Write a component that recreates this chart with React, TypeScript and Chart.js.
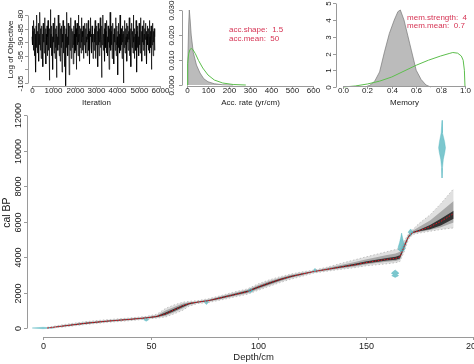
import React, { useEffect, useRef } from "react";
import { Chart, registerables } from "chart.js";
Chart.register(...registerables);

const W = 474;
const H = 364;
const FONT = '"Liberation Sans", Arial, Helvetica, sans-serif';
const TEXT = "#1a1a1a";
const NOTE = "rgb(214,52,84)";
const GREEN = "rgb(92,190,76)";
const CYAN = "rgba(80,180,190,0.75)";

// ---------- MCMC trace ----------
const traceStep = 16;
const traceLogObjective = [
  -88, -84, -91, -86, -93, -82, -89, -95, -85, -90, -87, -101, -84, -92, -80, -88, -94, -86, -90, -83,
  -97, -87, -91, -79, -89, -93, -85, -96, -88, -84, -92, -87, -99, -83, -90, -86, -94, -81, -89, -92,
  -85, -98, -87, -91, -84, -95, -88, -82, -93, -86, -90, -104, -85, -89, -78, -92, -87, -95, -84, -91,
  -88, -100, -83, -90, -86, -94, -81, -89, -96, -85, -92, -87, -103, -84, -90, -88, -93, -80, -91, -86,
  -95, -83, -89, -97, -85, -92, -88, -84, -101, -87, -90, -82, -94, -86, -91, -99, -84, -89, -87, -106,
  -85, -92, -79, -90, -88, -95, -83, -91, -86, -102, -87, -84, -93, -89, -81, -96, -88, -85, -92, -90,
  -86, -98, -84, -91, -87, -94, -82, -89, -93, -85, -100, -88, -83, -91, -86, -95, -80, -90, -87, -97,
  -84, -92, -88, -85, -94, -81, -90, -86, -93, -88, -84, -96, -87, -91, -83, -89, -92, -85, -94, -88,
  -90, -83, -95, -87, -89, -82, -93, -86, -91, -98, -85, -88, -81, -92, -87, -94, -84, -90, -86, -96,
  -89,
  -87, -93, -85, -90, -82, -96, -88, -91, -84, -89, -94, -86, -99, -83, -91, -87, -95, -85, -90, -81,
  -92, -86, -89, -103, -84, -91, -88, -80, -93, -87, -90, -85, -97, -83, -89, -92, -86, -94, -82, -91,
  -88, -95, -84, -90, -87, -100, -85, -92, -79, -89, -93, -86, -91, -84, -96, -88, -83, -92, -87, -98,
  -85, -90, -86, -93, -81, -89, -95, -84, -91, -88, -102, -86, -92, -83, -90, -87, -94, -80, -89, -93,
  -85, -91, -88, -96, -84, -90, -87, -105, -86, -92, -82, -89, -94, -85, -91, -88, -83, -97, -87, -90,
  -84, -93, -86, -89, -81, -95, -88, -91, -85, -99, -87, -83, -92, -89, -86, -94, -80, -90, -88, -96,
  -85, -91, -87, -93, -82, -89, -101, -86, -92, -84, -90, -88, -95, -83, -91, -87, -94, -81, -89, -92,
  -86, -97, -84, -90, -88, -93, -82, -91, -87, -95, -85, -89, -83, -92, -86, -98, -88, -84, -91, -87,
  -93, -85, -90, -82, -94, -88, -86, -92, -84, -100, -87, -91, -83, -89, -95, -86, -90, -85, -93, -88,
];
const iterTicks = [0, 1000, 2000, 3000, 4000, 5000, 6000];
const objTicks = [-105, -100, -95, -90, -85, -80];
const objLabels = ["-105", "", "-95", "-90", "-85", "-80"];

// ---------- accumulation rate ----------
const accRateX = [0, 4, 8, 11, 15, 20, 30, 45, 62, 80, 100, 130, 170, 220];
const accPosterior = [0, 0.01, 0.024, 0.03, 0.026, 0.02, 0.013, 0.008, 0.0048, 0.0025, 0.0013, 0.0005, 0.0001, 0];
const accPriorX = [0, 3, 8, 14, 20, 28, 40, 55, 75, 100, 130, 170, 220, 280];
const accPrior = [0, 0.0085, 0.0125, 0.0142, 0.0146, 0.0142, 0.0125, 0.0098, 0.0068, 0.004, 0.002, 0.0008, 0.0002, 0];
const accShape = 1.5;
const accMean = 50;
const accTicks = [0, 100, 200, 300, 400, 500, 600];
const accDensTicks = [0, 0.01, 0.02, 0.03];

// ---------- memory ----------
const memX = [0.18, 0.22, 0.26, 0.3, 0.34, 0.38, 0.42, 0.45, 0.47, 0.5, 0.53, 0.56, 0.6, 0.64, 0.68, 0.72];
const memPosterior = [0, 0.1, 0.35, 0.9, 2.1, 3.2, 4.0, 4.5, 4.6, 4.0, 3.1, 2.2, 1.0, 0.45, 0.12, 0];
const memPriorX = [0, 0.1, 0.2, 0.3, 0.4, 0.5, 0.6, 0.7, 0.8, 0.87, 0.9, 0.94, 0.97, 0.985, 0.995, 1.0];
const memPrior = [0, 0.06, 0.18, 0.35, 0.6, 0.95, 1.3, 1.6, 1.85, 2.0, 2.06, 2.02, 1.85, 1.6, 1.0, 0];
const memStrength = 4;
const memMean = 0.7;
const memTicks = [0, 0.2, 0.4, 0.6, 0.8, 1.0];
const memDensTicks = [0, 1, 2, 3, 4, 5];

// ---------- age-depth model ----------
const modelDepths = [2, 10, 20, 30, 40, 48, 53, 57, 61, 65, 68, 72, 77, 82, 88, 95, 100, 105, 110, 115, 120, 126, 132, 138, 145, 150, 155, 160, 164, 166, 168, 170, 172, 175, 180, 185, 191];
const ageMean = [0, 120, 270, 390, 480, 570, 650, 800, 1020, 1250, 1380, 1460, 1540, 1680, 1850, 2050, 2300, 2520, 2720, 2890, 3030, 3180, 3300, 3420, 3560, 3680, 3780, 3870, 3920, 4000, 4600, 5150, 5380, 5480, 5710, 6000, 6450];
const ageLo95 = [-30, 60, 200, 320, 410, 500, 560, 620, 800, 1000, 1230, 1380, 1440, 1560, 1720, 1900, 2120, 2340, 2550, 2740, 2900, 3100, 3200, 3300, 3400, 3500, 3560, 3620, 3680, 3750, 4300, 5000, 5270, 5350, 5450, 5550, 5640];
const ageHi95 = [40, 200, 360, 470, 560, 650, 780, 1100, 1300, 1450, 1500, 1540, 1650, 1800, 2000, 2200, 2480, 2700, 2880, 3030, 3150, 3260, 3420, 3620, 3840, 4000, 4150, 4300, 4420, 4500, 4900, 5300, 5550, 5900, 6370, 7000, 7850];
const ageLo68 = [-20, 80, 225, 345, 435, 525, 595, 690, 890, 1110, 1300, 1420, 1490, 1610, 1770, 1960, 2190, 2410, 2620, 2810, 2960, 3140, 3240, 3350, 3470, 3580, 3660, 3730, 3780, 3850, 4430, 5060, 5320, 5410, 5520, 5680, 5950];
const ageHi68 = [25, 170, 325, 440, 530, 620, 720, 980, 1190, 1380, 1450, 1510, 1610, 1760, 1940, 2150, 2410, 2630, 2820, 2980, 3100, 3230, 3380, 3540, 3720, 3860, 3990, 4110, 4200, 4300, 4780, 5250, 5480, 5700, 6050, 6550, 7150];
const ageLo50 = [-8, 100, 245, 368, 458, 548, 622, 740, 960, 1190, 1345, 1442, 1515, 1648, 1810, 2010, 2250, 2470, 2680, 2855, 3005, 3163, 3275, 3390, 3520, 3630, 3720, 3800, 3850, 3920, 4520, 5110, 5355, 5445, 5570, 5780, 6150];
const ageHi50 = [12, 145, 295, 415, 505, 595, 680, 880, 1090, 1300, 1410, 1482, 1570, 1715, 1885, 2095, 2345, 2565, 2765, 2930, 3060, 3200, 3330, 3465, 3620, 3740, 3850, 3950, 4010, 4100, 4680, 5190, 5410, 5540, 5800, 6150, 6600];
const depthTicks = [0, 50, 100, 150, 200];
const ageTicks = [0, 2000, 4000, 6000, 8000, 10000, 12000];

// ---------- calibrated dates ----------
const dateDepths = [0, 48, 76, 96.5, 126.5, 163.8, 166.8, 171, 185.6];
const dateAges = [
  [-40, 0, 40],
  [380, 470, 560],
  [1320, 1450, 1580],
  [1980, 2100, 2230],
  [3120, 3240, 3360],
  [2850, 2950, 3020, 3080, 3150, 3270],
  [4250, 4400, 4560, 4800, 5050, 5350],
  [5240, 5400, 5580],
  [8450, 9000, 9500, 9900, 10150, 10500, 11000, 11700],
];
const dateWidths = [
  [0, 5, 0],
  [0, 1.2, 0],
  [0, 1.0, 0],
  [0, 1.2, 0],
  [0, 0.8, 0],
  [0, 1.6, 0.8, 1.8, 1.2, 0],
  [0, 1.3, 1.6, 1.0, 0.5, 0],
  [0, 1.2, 0],
  [0, 0.2, 0.6, 1.3, 1.6, 1.2, 0.4, 0],
];

// ---------- helpers ----------
type AxisSpec = {
  ticks: number[];
  labels: string[];
  at: number;
  labelGap: number;
  title?: string;
  titleGap?: number;
  titleAt?: number;
  font: number;
  titleFont?: number;
  color?: string;
};
type Note = { x: number; y: number; text: string; color: string; font: number };

function span(v1: number, p1: number, v2: number, p2: number, lo: number, hi: number) {
  const k = (p2 - p1) / (v2 - v1);
  const a = v1 + (lo - p1) / k;
  const b = v1 + (hi - p1) / k;
  return { min: Math.min(a, b), max: Math.max(a, b) };
}

function rAxes(id: string, xa: AxisSpec, ya: AxisSpec, notes: Note[] = []) {
  return {
    id,
    afterDraw(chart: any) {
      const ctx = chart.ctx as CanvasRenderingContext2D;
      const xs = chart.scales.x;
      const ys = chart.scales.y;
      ctx.save();
      ctx.lineWidth = 1;
      const xp = xa.ticks.map((v) => Math.round(xs.getPixelForValue(v)) + 0.5);
      ctx.strokeStyle = xa.color || "#9a9a9a";
      ctx.beginPath();
      ctx.moveTo(xp[0], xa.at + 0.5);
      ctx.lineTo(xp[xp.length - 1], xa.at + 0.5);
      xp.forEach((p) => {
        ctx.moveTo(p, xa.at);
        ctx.lineTo(p, xa.at + 3);
      });
      ctx.stroke();
      ctx.fillStyle = TEXT;
      ctx.textAlign = "center";
      ctx.textBaseline = "middle";
      ctx.font = `${xa.font}px ${FONT}`;
      xp.forEach((p, i) => ctx.fillText(xa.labels[i], p, xa.at + xa.labelGap));
      if (xa.title) {
        ctx.font = `${xa.titleFont || xa.font}px ${FONT}`;
        const c = xa.titleAt !== undefined ? xs.getPixelForValue(xa.titleAt) : (xp[0] + xp[xp.length - 1]) / 2;
        ctx.fillText(xa.title, c, xa.at + (xa.titleGap || 16));
      }
      const yp = ya.ticks.map((v) => Math.round(ys.getPixelForValue(v)) + 0.5);
      ctx.strokeStyle = ya.color || "#9a9a9a";
      ctx.beginPath();
      ctx.moveTo(ya.at + 0.5, yp[0]);
      ctx.lineTo(ya.at + 0.5, yp[yp.length - 1]);
      yp.forEach((p) => {
        ctx.moveTo(ya.at, p);
        ctx.lineTo(ya.at - 3, p);
      });
      ctx.stroke();
      ctx.font = `${ya.font}px ${FONT}`;
      yp.forEach((p, i) => {
        ctx.save();
        ctx.translate(ya.at - ya.labelGap, p);
        ctx.rotate(-Math.PI / 2);
        ctx.fillText(ya.labels[i], 0, 0);
        ctx.restore();
      });
      if (ya.title) {
        ctx.font = `${ya.titleFont || ya.font}px ${FONT}`;
        const c = ya.titleAt !== undefined ? ys.getPixelForValue(ya.titleAt) : (yp[0] + yp[yp.length - 1]) / 2;
        ctx.save();
        ctx.translate(ya.at - (ya.titleGap || 16), c);
        ctx.rotate(-Math.PI / 2);
        ctx.fillText(ya.title, 0, 0);
        ctx.restore();
      }
      ctx.textAlign = "left";
      notes.forEach((n) => {
        ctx.fillStyle = n.color;
        ctx.font = `${n.font}px ${FONT}`;
        ctx.fillText(n.text, xs.getPixelForValue(n.x), ys.getPixelForValue(n.y));
      });
      ctx.restore();
    },
  };
}

function baseOptions(area: [number, number, number, number], xr: any, yr: any) {
  const [l, t, r, b] = area;
  return {
    responsive: false,
    animation: false as const,
    events: [] as any[],
    layout: { padding: { left: l, top: t, right: W - r, bottom: H - b } },
    plugins: { legend: { display: false }, tooltip: { enabled: false } },
    scales: {
      x: { type: "linear" as const, display: false, min: xr.min, max: xr.max },
      y: { type: "linear" as const, display: false, min: yr.min, max: yr.max },
    },
    elements: { point: { radius: 0 }, line: { tension: 0 } },
  };
}

const pts = (xs: number[], ys: number[]) => xs.map((x, i) => ({ x, y: ys[i] }));

function datePolygon(d: number, ages: number[], widths: number[]) {
  const left = ages.map((a, i) => ({ x: d - widths[i], y: a }));
  const right = ages.map((a, i) => ({ x: d + widths[i], y: a })).reverse();
  return left.concat(right);
}

const hidden = { borderWidth: 0, borderColor: "rgba(0,0,0,0)", pointRadius: 0 };

export default function App() {
  const r1 = useRef<HTMLCanvasElement>(null);
  const r2 = useRef<HTMLCanvasElement>(null);
  const r3 = useRef<HTMLCanvasElement>(null);
  const r4 = useRef<HTMLCanvasElement>(null);

  useEffect(() => {
    const charts: Chart[] = [];

    {
      const area: [number, number, number, number] = [30, 2, 162, 90];
      const xr = span(0, 32, 6000, 160, area[0], area[2]);
      const yr = span(-80, 15, -105, 83, area[1], area[3]);
      charts.push(
        new Chart(r1.current!, {
          type: "line",
          data: {
            datasets: [
              {
                data: traceLogObjective.map((v, i) => ({ x: i * traceStep, y: v })),
                borderColor: "#000",
                borderWidth: 0.7,
                pointRadius: 0,
                fill: false,
              },
            ],
          },
          options: baseOptions(area, xr, yr) as any,
          plugins: [
            rAxes(
              "ax1",
              { ticks: iterTicks, labels: iterTicks.map(String), at: 86, labelGap: 5, title: "Iteration", titleGap: 17, font: 8 },
              { ticks: objTicks, labels: objLabels, at: 28, labelGap: 7, title: "Log of Objective", titleGap: 17, font: 8 }
            ),
          ],
        })
      );
    }

    {
      const area: [number, number, number, number] = [183, 2, 318, 88];
      const xr = span(0, 187, 600, 313, area[0], area[2]);
      const yr = span(0, 85, 0.03, 10, area[1], area[3]);
      charts.push(
        new Chart(r2.current!, {
          type: "line",
          data: {
            datasets: [
              { data: pts(accPriorX, accPrior), borderColor: GREEN, borderWidth: 1, pointRadius: 0, fill: false, order: 1 },
              {
                data: pts(accRateX, accPosterior),
                borderColor: "#777",
                borderWidth: 0.7,
                backgroundColor: "rgba(175,175,175,0.85)",
                pointRadius: 0,
                fill: "origin",
                order: 2,
              },
            ],
          },
          options: baseOptions(area, xr, yr) as any,
          plugins: [
            rAxes(
              "ax2",
              { ticks: accTicks, labels: accTicks.map(String), at: 86, labelGap: 5, title: "Acc. rate (yr/cm)", titleGap: 17, font: 8 },
              { ticks: accDensTicks, labels: accDensTicks.map((v) => v.toFixed(3)), at: 182, labelGap: 10, font: 8 },
              [
                { x: 200, y: 0.0222, text: `acc.shape:  ${accShape}`, color: NOTE, font: 8 },
                { x: 200, y: 0.0186, text: `acc.mean:  ${accMean}`, color: NOTE, font: 8 },
              ]
            ),
          ],
        })
      );
    }

    {
      const area: [number, number, number, number] = [337, 1, 471, 89];
      const xr = span(0, 343, 1, 465, area[0], area[2]);
      const yr = span(0, 87, 5, 3.3, area[1], area[3]);
      charts.push(
        new Chart(r3.current!, {
          type: "line",
          data: {
            datasets: [
              { data: pts(memPriorX, memPrior), borderColor: GREEN, borderWidth: 1, pointRadius: 0, fill: false, order: 1 },
              {
                data: pts(memX, memPosterior),
                borderColor: "#777",
                borderWidth: 0.7,
                backgroundColor: "rgba(175,175,175,0.85)",
                pointRadius: 0,
                fill: "origin",
                order: 2,
              },
            ],
          },
          options: baseOptions(area, xr, yr) as any,
          plugins: [
            rAxes(
              "ax3",
              { ticks: memTicks, labels: memTicks.map((v) => v.toFixed(1)), at: 86, labelGap: 5, title: "Memory", titleGap: 17, font: 8 },
              { ticks: memDensTicks, labels: memDensTicks.map(String), at: 336, labelGap: 7, font: 8 },
              [
                { x: 0.525, y: 4.12, text: `mem.strength:  ${memStrength}`, color: NOTE, font: 8 },
                { x: 0.525, y: 3.65, text: `mem.mean:  ${memMean}`, color: NOTE, font: 8 },
              ]
            ),
          ],
        })
      );
    }

    {
      const area: [number, number, number, number] = [28, 100, 474, 336];
      const xr = span(0, 43, 200, 473, area[0], area[2]);
      const yr = span(0, 328, 12000, 115, area[1], area[3]);
      const dateSets = dateDepths.map((d, i) => ({
        data: datePolygon(d, dateAges[i], dateWidths[i]),
        borderColor: CYAN,
        borderWidth: 0.5,
        backgroundColor: CYAN,
        pointRadius: 0,
        fill: "shape",
        order: 6,
      }));
      charts.push(
        new Chart(r4.current!, {
          type: "line",
          data: {
            datasets: [
              { data: pts(modelDepths, ageLo95), ...hidden, fill: false, order: 12 },
              { data: pts(modelDepths, ageHi95), ...hidden, backgroundColor: "rgba(0,0,0,0.12)", fill: 0, order: 12 },
              { data: pts(modelDepths, ageLo68), ...hidden, fill: false, order: 11 },
              { data: pts(modelDepths, ageHi68), ...hidden, backgroundColor: "rgba(0,0,0,0.25)", fill: 2, order: 11 },
              { data: pts(modelDepths, ageLo50), ...hidden, fill: false, order: 10 },
              { data: pts(modelDepths, ageHi50), ...hidden, backgroundColor: "rgba(0,0,0,0.7)", fill: 4, order: 10 },
              { data: pts(modelDepths, ageLo95), borderWidth: 0.8, borderColor: "#b4b4b4", borderDash: [1.5, 2], pointRadius: 0, fill: false, order: 5 },
              { data: pts(modelDepths, ageHi95), borderWidth: 0.8, borderColor: "#b4b4b4", borderDash: [1.5, 2], pointRadius: 0, fill: false, order: 5 },
              { data: pts(modelDepths, ageMean), borderWidth: 1, borderColor: "rgb(225,20,30)", borderDash: [1.5, 1.5], pointRadius: 0, fill: false, order: 4 },
              ...dateSets,
            ] as any,
          },
          options: baseOptions(area, xr, yr) as any,
          plugins: [
            rAxes(
              "ax4",
              { ticks: depthTicks, labels: depthTicks.map(String), at: 337, labelGap: 10, title: "Depth/cm", titleAt: 98, titleGap: 20, font: 9, titleFont: 9.5 },
              { ticks: ageTicks, labels: ageTicks.map(String), at: 27, labelGap: 8, title: "cal BP", titleAt: 6500, titleGap: 20, font: 9, titleFont: 10.5 }
            ),
          ],
        })
      );
    }

    return () => charts.forEach((c) => c.destroy());
  }, []);

  const cs = { position: "absolute" as const, left: 0, top: 0, width: W, height: H };
  return (
    <div style={{ position: "fixed", left: 0, top: 0, width: W, height: H, overflow: "hidden", background: "#fff" }}>
      <canvas ref={r1} width={W} height={H} style={cs} />
      <canvas ref={r2} width={W} height={H} style={cs} />
      <canvas ref={r3} width={W} height={H} style={cs} />
      <canvas ref={r4} width={W} height={H} style={cs} />
    </div>
  );
}
